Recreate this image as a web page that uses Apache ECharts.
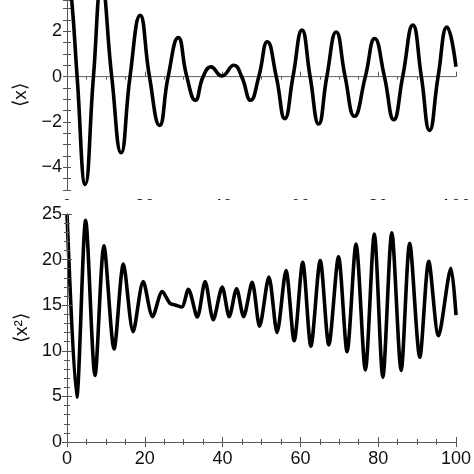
<!DOCTYPE html>
<html><head><meta charset="utf-8">
<script src="https://cdn.jsdelivr.net/npm/echarts@6/dist/echarts.min.js"></script>
<style>html,body{margin:0;padding:0;background:#fff}#c{width:474px;height:474px}</style>
</head><body><div id="c"></div>
<script>
// <x>(t)
const meanT = [0, 1.2, 2.6, 4.7, 6.8, 8.9, 11.5, 13.9, 16.2, 18.8, 21.2, 23.8, 26.0, 28.6, 30.8, 33.0, 35.0, 37.0, 39.8, 42.9, 44.9, 47.2, 49.3, 51.5, 53.8, 56.0, 58.1, 60.4, 62.5, 64.7, 66.8, 69.2, 71.5, 73.9, 76.7, 79.1, 81.6, 84.0, 86.3, 88.9, 91.1, 93.2, 95.4, 97.7, 100];
const meanV = [5.0, 3.4, 0, -4.75, 0, 4.1, 0, -3.36, 0, 2.7, 0, -2.15, 0, 1.72, 0, -1.04, 0, 0.43, 0.03, 0.5, 0, -1.04, 0, 1.54, 0, -1.85, 0, 2.05, 0, -2.09, 0, 1.97, 0, -1.75, 0, 1.68, 0, -1.9, 0, 2.27, 0, -2.37, 0, 2.19, 0.44];
// <x^2>(t)
const sqT = [0, 2.5, 4.8, 7.2, 9.5, 12.1, 14.5, 17.0, 19.6, 22.0, 24.5, 26.5, 28.0, 29.5, 31.2, 33.5, 35.5, 37.6, 39.9, 41.7, 43.6, 45.4, 47.6, 49.5, 51.9, 54.0, 56.3, 58.4, 60.6, 62.7, 65.1, 67.3, 69.8, 72.0, 74.3, 76.7, 79.0, 81.2, 83.5, 85.9, 88.1, 90.7, 93.0, 95.5, 98.7, 100];
const sqV = [25, 4.9, 24.3, 7.3, 21.5, 10.2, 19.5, 12.1, 17.6, 13.75, 16.5, 15.2, 15.0, 14.8, 16.75, 13.7, 17.6, 13.4, 17.0, 13.75, 16.8, 13.75, 17.5, 12.7, 18.1, 12.0, 18.8, 11.1, 19.7, 10.5, 19.9, 10.65, 20.3, 9.9, 21.7, 7.9, 22.8, 7.1, 22.95, 7.85, 21.8, 9.3, 19.8, 11.65, 19.05, 13.9];
const xTickLabels = [0, 20, 40, 60, 80, 100];
const meanTickLabels = [-4, -2, 0, 2];
const sqTickLabels = [0, 5, 10, 15, 20, 25];
const zeroLine = [[0, 0], [100, 0]];

const FONT = '"Liberation Sans", Arial, Helvetica, sans-serif';
const AX = '#555';
const TXT = '#111';
const fmt = v => String(v).replace('-', '\u2212');

function xAx(grid, pos, showLabel, show, z) {
  return {
    type: 'value', gridIndex: grid, position: pos, min: 0, max: 100, interval: 20, show: show, z: z,
    axisLine: { show: true, lineStyle: { color: AX, width: 1 } },
    axisTick: { show: true, inside: true, length: 5, lineStyle: { color: AX } },
    minorTick: { show: true, splitNumber: 4, length: -3, lineStyle: { color: AX } },
    splitLine: { show: false }, minorSplitLine: { show: false },
    axisLabel: { show: showLabel, margin: 8, fontSize: 18, color: TXT, fontFamily: FONT,
      formatter: v => xTickLabels.includes(v) ? fmt(v) : '' }
  };
}

const option = {
  animation: false,
  backgroundColor: '#fff',
  grid: [
    { left: 67, right: 18, top: 0, height: 190 },
    { left: 67, right: 18, top: 214, height: 228 }
  ],
  graphic: [
    // the upper panel's tick labels are mostly hidden behind the lower panel
    { type: 'rect', left: 0, top: 200, z: 5, shape: { width: 474, height: 13 }, style: { fill: '#fff' }, silent: true }
  ],
  xAxis: [
    xAx(0, 'bottom', true, true, 0),
    xAx(0, 'top', false, false, 0),
    xAx(1, 'bottom', true, true, 10),
    xAx(1, 'top', false, true, 10)
  ],
  yAxis: [
    {
      type: 'value', gridIndex: 0, position: 'left', min: -5, max: 3.38, interval: 0.5,
      name: '\u27E8x\u27E9', nameLocation: 'middle', nameGap: 36, nameRotate: 90,
      nameTextStyle: { fontSize: 19, color: TXT, fontFamily: FONT },
      axisLine: { show: true, lineStyle: { color: AX } },
      axisTick: { show: true, inside: true, length: 4, lineStyle: { color: AX } },
      splitLine: { show: false },
      axisLabel: { margin: 5, fontSize: 18, color: TXT, fontFamily: FONT,
        formatter: v => meanTickLabels.includes(v) ? fmt(v) : '' }
    },
    {
      type: 'value', gridIndex: 0, position: 'right', min: -5, max: 3.38, interval: 0.5,
      axisLine: { show: true, lineStyle: { color: AX } },
      axisTick: { show: true, inside: true, length: 4, lineStyle: { color: AX } },
      splitLine: { show: false }, axisLabel: { show: false }
    },
    {
      type: 'value', gridIndex: 1, position: 'left', min: 0, max: 25, interval: 5, z: 10,
      name: '\u27E8x\u00B2\u27E9', nameLocation: 'middle', nameGap: 36, nameRotate: 90,
      nameTextStyle: { fontSize: 19, color: TXT, fontFamily: FONT },
      axisLine: { show: true, lineStyle: { color: AX } },
      axisTick: { show: true, inside: true, length: 5, lineStyle: { color: AX } },
      minorTick: { show: true, splitNumber: 5, length: -3, lineStyle: { color: AX } },
      splitLine: { show: false }, minorSplitLine: { show: false },
      axisLabel: { margin: 5, fontSize: 18, color: TXT, fontFamily: FONT,
        formatter: v => sqTickLabels.includes(v) ? fmt(v) : '' }
    },
    {
      type: 'value', gridIndex: 1, position: 'right', min: 0, max: 25, interval: 5, z: 10,
      axisLine: { show: true, lineStyle: { color: AX } },
      axisTick: { show: true, inside: true, length: 5, lineStyle: { color: AX } },
      minorTick: { show: true, splitNumber: 5, length: -3, lineStyle: { color: AX } },
      splitLine: { show: false }, minorSplitLine: { show: false }, axisLabel: { show: false }
    }
  ],
  series: [
    { type: 'line', xAxisIndex: 0, yAxisIndex: 0, data: zeroLine, symbol: 'none', silent: true,
      z: 1, lineStyle: { color: '#777', width: 1 } },
    { type: 'line', xAxisIndex: 0, yAxisIndex: 0, data: meanT.map((t, i) => [t, meanV[i]]),
      symbol: 'none', smooth: 0.5, z: 3, lineStyle: { color: '#000', width: 3.6 } },
    { type: 'line', xAxisIndex: 2, yAxisIndex: 2, data: sqT.map((t, i) => [t, sqV[i]]),
      symbol: 'none', smooth: 0.28, z: 3, lineStyle: { color: '#000', width: 3.6 } }
  ]
};
echarts.init(document.getElementById('c'), null, { renderer: 'canvas' }).setOption(option);
</script></body></html>
